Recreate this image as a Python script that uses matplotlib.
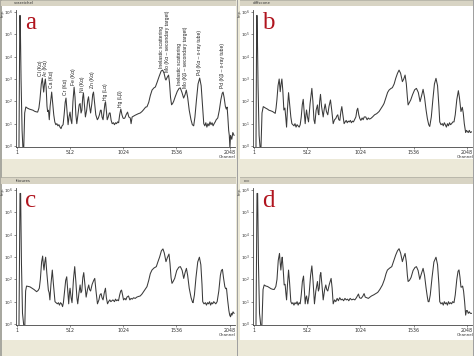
import matplotlib
matplotlib.use("Agg")
import matplotlib.pyplot as plt
from matplotlib.patches import Rectangle

W, H = 474, 356

# ---- spectra (channel, counts) ----
ch_a = [20, 28, 32, 40, 50, 58, 66, 75, 86, 100, 120, 140, 155, 170, 185, 200, 212, 222, 235, 245,
        252, 258, 266, 274, 282, 290, 296, 304, 312, 320, 335, 345, 355, 365, 375, 385, 395, 405, 415, 425,
        435, 445, 455, 465, 473, 482, 493, 502, 512, 520, 529, 540, 551, 560, 568, 577, 590, 600, 609, 618,
        626, 634, 641, 650, 660, 672, 682, 690, 700, 710, 722, 730, 738, 748, 760, 775, 785, 795, 805, 812,
        820, 830, 840, 848, 854, 862, 870, 880, 890, 898, 908, 918, 930, 940, 950, 960, 970, 980, 990, 1001,
        1012, 1022, 1030, 1040, 1052, 1066, 1078, 1092, 1100, 1110, 1125, 1140, 1155, 1170, 1188, 1205, 1220, 1240, 1253, 1270,
        1285, 1302, 1320, 1334, 1350, 1370, 1390, 1404, 1418, 1430, 1436, 1448, 1461, 1470, 1480, 1490, 1500, 1510, 1525, 1545,
        1562, 1574, 1590, 1606, 1620, 1632, 1645, 1660, 1677, 1690, 1703, 1715, 1730, 1745, 1761, 1775, 1788, 1800, 1810, 1820,
        1830, 1840, 1850, 1860, 1870, 1880, 1890, 1900, 1910, 1920, 1935, 1950, 1965, 1978, 1986, 1996, 2008, 2017, 2025, 2032,
        2040, 2046, 2052, 2058, 2070, 2080, 2092]
cnt_a = [0.8, 7e5, 7e5, 1000, 5, 0.8, 0.8, 30, 56, 50, 45, 42, 40, 36, 34, 33, 50, 120, 600, 1100,
         500, 260, 600, 1000, 400, 60, 35, 40, 15, 60, 260, 80, 25, 12, 9, 10, 8, 9, 7, 6,
         8, 9, 25, 90, 140, 40, 9, 20, 33, 15, 10, 100, 430, 150, 25, 10, 30, 70, 80, 30,
         40, 150, 240, 70, 20, 40, 110, 160, 60, 30, 80, 200, 260, 90, 25, 15, 18, 25, 40, 40,
         20, 15, 40, 80, 95, 40, 15, 20, 30, 30, 14, 10, 11, 9, 11, 10, 12, 11, 25, 45,
         25, 18, 17, 18, 25, 33, 20, 18, 10, 20, 22, 24, 26, 28, 30, 35, 42, 55, 57, 90,
         180, 320, 400, 440, 700, 1300, 2300, 2500, 1800, 1000, 900, 1200, 1500, 700, 150, 70, 80, 100, 160, 280,
         380, 400, 250, 140, 200, 320, 150, 40, 15, 9, 8, 20, 120, 600, 1100, 500, 60, 10, 8, 11,
         7, 10, 8, 12, 9, 11, 8, 10, 12, 15, 18, 40, 120, 230, 260, 150, 60, 45, 55, 20,
         5, 3, 0.8, 3, 2, 4, 3]

ch_b = [20, 27, 31, 40, 50, 60, 68, 78, 90, 105, 115, 130, 145, 160, 179, 195, 205, 213, 221, 232,
        243, 248, 253, 261, 269, 278, 288, 298, 306, 314, 322, 333, 343, 355, 365, 375, 385, 395, 405, 415,
        425, 435, 445, 455, 465, 474, 484, 493, 500, 506, 515, 525, 540, 557, 567, 577, 586, 598, 611, 618,
        624, 632, 640, 650, 666, 676, 685, 697, 710, 722, 736, 748, 762, 775, 787, 797, 806, 816, 826, 836,
        845, 855, 867, 877, 887, 897, 907, 917, 927, 937, 947, 957, 967, 980, 990, 998, 1008, 1018, 1028, 1040,
        1050, 1060, 1075, 1088, 1100, 1110, 1123, 1140, 1160, 1180, 1203, 1225, 1240, 1251, 1270, 1285, 1299, 1315, 1331, 1348,
        1363, 1380, 1395, 1410, 1427, 1440, 1453, 1465, 1475, 1482, 1495, 1507, 1525, 1545, 1562, 1580, 1597, 1612, 1626, 1640,
        1655, 1667, 1680, 1690, 1705, 1720, 1735, 1750, 1765, 1778, 1786, 1798, 1811, 1820, 1830, 1840, 1850, 1860, 1870, 1880,
        1890, 1900, 1912, 1923, 1935, 1950, 1965, 1975, 1990, 1997, 2003, 2012, 2022, 2035, 2043, 2051, 2060, 2070, 2080, 2093]
cnt_b = [0.8, 7e5, 7e5, 500, 3, 0.8, 0.8, 30, 58, 52, 49, 45, 40, 38, 35, 31, 29, 50, 115, 500,
         1000, 500, 270, 600, 1000, 300, 41, 50, 20, 7, 40, 245, 80, 20, 10, 9, 8, 10, 7, 9,
         8, 7, 9, 20, 70, 123, 30, 10, 25, 41, 20, 12, 80, 380, 100, 15, 10, 40, 69, 30,
         25, 100, 205, 60, 20, 45, 76, 35, 25, 60, 115, 40, 10, 15, 17, 22, 25, 15, 14, 35,
         58, 25, 10, 12, 14, 11, 13, 12, 14, 11, 13, 12, 15, 20, 40, 49, 25, 17, 14, 18,
         15, 20, 20, 15, 18, 16, 17, 20, 25, 28, 35, 50, 65, 81, 150, 250, 320, 370, 410, 600,
         1070, 1800, 2500, 1800, 760, 1000, 1500, 600, 150, 69, 90, 115, 200, 330, 380, 250, 97, 180, 345, 150,
         40, 17, 9, 7.5, 20, 120, 600, 1070, 500, 60, 12, 9, 10, 8, 11, 9, 7, 10, 8, 11,
         9, 10, 12, 12, 25, 120, 300, 150, 35, 45, 54, 30, 10, 4, 5, 4.5, 4, 5, 4, 4.3]

ch_c = [20, 30, 36, 44, 54, 68, 76, 84, 93, 110, 126, 145, 165, 190, 205, 216, 226, 238, 248, 254,
        261, 269, 277, 288, 303, 311, 318, 328, 341, 352, 367, 377, 390, 400, 410, 420, 430, 440, 448, 460,
        470, 480, 490, 499, 506, 512, 522, 531, 545, 557, 568, 578, 586, 598, 609, 617, 625, 635, 644, 655,
        667, 680, 692, 700, 710, 725, 740, 750, 762, 776, 790, 800, 811, 820, 830, 842, 853, 862, 873, 883,
        895, 905, 915, 925, 940, 950, 960, 970, 979, 990, 1000, 1008, 1018, 1027, 1040, 1050, 1060, 1075, 1088, 1100,
        1112, 1124, 1140, 1155, 1170, 1188, 1205, 1225, 1253, 1270, 1285, 1301, 1320, 1343, 1358, 1375, 1392, 1407, 1420, 1436,
        1450, 1465, 1475, 1485, 1494, 1505, 1520, 1540, 1560, 1575, 1592, 1607, 1620, 1633, 1645, 1660, 1678, 1690, 1697, 1710,
        1725, 1742, 1758, 1772, 1783, 1790, 1802, 1816, 1826, 1836, 1846, 1856, 1866, 1876, 1886, 1896, 1906, 1916, 1929, 1945,
        1960, 1970, 1980, 1990, 2003, 2011, 2019, 2030, 2042, 2050, 2058, 2065, 2072, 2082, 2092]
cnt_c = [0.8, 7e5, 7e5, 500, 3, 0.7, 0.7, 30, 50, 48, 46, 40, 35, 28, 32, 40, 100, 600, 1100, 500,
         260, 600, 980, 200, 33, 25, 12, 60, 260, 60, 10, 9, 8, 9, 7, 9, 8, 6, 9, 30,
         90, 130, 30, 8, 25, 40, 15, 9, 100, 370, 80, 15, 8, 25, 56, 25, 30, 120, 200, 60,
         16, 35, 56, 35, 30, 60, 90, 110, 30, 8, 12, 20, 23, 15, 12, 25, 40, 15, 8, 10,
         12, 10, 11, 12, 10, 13, 11, 12, 11, 20, 30, 33, 20, 12, 14, 12, 16, 18, 12, 14,
         13, 15, 14, 16, 17, 18, 22, 30, 47, 90, 180, 260, 320, 370, 600, 1000, 1900, 2300, 1500, 620,
         950, 1350, 500, 120, 66, 80, 110, 250, 350, 370, 250, 110, 200, 310, 150, 40, 15, 10, 9, 20,
         120, 600, 980, 450, 60, 10, 8, 9, 7, 9, 8, 10, 7, 9, 8, 10, 9, 8, 10, 30,
         150, 250, 280, 120, 47, 38, 40, 12, 4, 2.5, 2.1, 3, 2.5, 3.5, 3]

ch_d = [20, 30, 36, 44, 54, 68, 76, 88, 99, 115, 131, 150, 165, 179, 195, 211, 222, 234, 246, 252,
        259, 266, 272, 281, 291, 300, 307, 314, 322, 333, 343, 355, 365, 375, 385, 395, 405, 415, 425, 435,
        445, 455, 466, 477, 486, 493, 500, 506, 512, 518, 530, 545, 557, 568, 582, 595, 611, 620, 628, 636,
        643, 655, 666, 680, 691, 700, 710, 725, 742, 752, 762, 775, 787, 800, 812, 825, 838, 850, 862, 875,
        888, 900, 912, 925, 940, 955, 970, 985, 995, 1005, 1015, 1030, 1045, 1059, 1070, 1085, 1100, 1115, 1130, 1150,
        1171, 1190, 1210, 1235, 1255, 1270, 1283, 1305, 1325, 1345, 1363, 1380, 1395, 1410, 1427, 1440, 1453, 1465, 1475, 1482,
        1495, 1510, 1530, 1548, 1562, 1578, 1594, 1610, 1626, 1640, 1655, 1667, 1675, 1683, 1695, 1712, 1730, 1750, 1765, 1778,
        1786, 1798, 1810, 1820, 1830, 1840, 1850, 1860, 1870, 1880, 1890, 1900, 1910, 1923, 1935, 1950, 1962, 1971, 1980, 1990,
        1998, 2006, 2015, 2025, 2035, 2043, 2051, 2060, 2070, 2080, 2093]
cnt_d = [0.8, 7e5, 7e5, 500, 3, 0.7, 0.7, 35, 56, 50, 48, 42, 38, 36, 35, 48, 100, 700, 1450, 600,
         260, 600, 980, 300, 56, 60, 25, 12, 50, 260, 70, 10, 8, 9, 7, 9, 8, 10, 7, 9,
         8, 20, 80, 140, 30, 8, 15, 18, 12, 8, 20, 150, 400, 90, 8, 30, 80, 30, 40, 150,
         200, 50, 12, 35, 56, 35, 30, 60, 110, 40, 8, 12, 10, 14, 11, 15, 12, 13, 11, 14,
         12, 13, 11, 14, 12, 13, 12, 15, 18, 22, 15, 14, 17, 23, 16, 15, 14, 16, 18, 20,
         23, 26, 35, 56, 100, 180, 260, 320, 370, 700, 1230, 1900, 2350, 1500, 620, 1000, 1450, 600, 150, 80,
         90, 120, 250, 340, 370, 250, 100, 180, 310, 150, 40, 16, 10, 10, 20, 120, 600, 980, 450, 60,
         10, 8, 9, 7, 10, 8, 9, 7, 10, 8, 9, 8, 10, 9, 20, 100, 230, 265, 130, 45,
         45, 50, 30, 10, 2.5, 4, 4, 3, 3.5, 3, 3]

# peak labels of panel a: (channel, count at label foot, text)
peak_ch = [232, 275, 330, 466, 546, 634, 733, 849, 994, 1393, 1455, 1568, 1625, 1755, 1983]
peak_base = [1300, 1350, 380, 190, 520, 270, 380, 115, 58, 3000, 2100, 520, 400, 1500, 380]
peak_text = ["Cl (K\u03b1)", "Ar (K\u03b1)", "Ca (K\u03b1)", "Cr (K\u03b1)", "Fe (K\u03b1)", "Ni (K\u03b1)",
             "Zn (K\u03b1)", "Hg (L\u03b1)", "Hg (L\u03b2)", "Inelastic scattering",
             "Mo (K\u03b1 \u2013 secondary target)", "Inelastic scattering",
             "Mo (K\u03b2 \u2013 secondary target)", "Pd (K\u03b1 \u2013 x-ray tube)",
             "Pd (K\u03b2 \u2013 x-ray tube)"]

x_ticks = [1, 512, 1024, 1536, 2048]
y_ticks = [1, 10, 100, 1e3, 1e4, 1e5, 1e6]
y_ticklabels = [r"$10^{%d}$" % i for i in range(7)]
titles = ["vorzeichel", "diffscone", "fitoures", "ccc"]
letters = ["a", "b", "c", "d"]

BEIGE = "#ece9d8"
BAR = "#d8d4c4"
RED = "#b0141e"

fig = plt.figure(figsize=(W / 100, H / 100), dpi=100, facecolor=BEIGE)


def rect(x0, y0, x1, y1, **kw):
    # rectangle given in pixel coords from the top-left corner
    fig.add_artist(Rectangle((x0 / W, 1 - y1 / H), (x1 - x0) / W, (y1 - y0) / H,
                             transform=fig.transFigure, zorder=-5, **kw))


def ftext(x, y, s, **kw):
    fig.text(x / W, 1 - y / H, s, **kw)


# window chrome
rect(0, 0, 2, H, facecolor="#a8a8a0", edgecolor="none")
for top, bot in [(0, 159), (177, 340)]:
    bar_h = 6 if top == 0 else 7
    rect(0, top, W, top + bar_h, facecolor=BAR, edgecolor="#9c9a90", lw=0.4)
    rect(2, top + bar_h, 236, bot, facecolor="white", edgecolor="none")
    rect(240, top + bar_h, 473, bot, facecolor="white", edgecolor="none")
rect(236, 0, 240, H, facecolor=BEIGE, edgecolor="none")
rect(237, 0, 238, H, facecolor="#a0a0a0", edgecolor="none")
rect(473, 0, W, H, facecolor="#a0a0a0", edgecolor="none")

# panel geometry (pixels): x of channel 1, x of channel 2048, y of 10^0, y of 10^6
panels = [(17, 229.5, 146, 12), (254, 467, 146, 12), (17, 229.5, 324, 190), (254, 467, 324, 190)]
series = [(ch_a, cnt_a), (ch_b, cnt_b), (ch_c, cnt_c), (ch_d, cnt_d)]
title_y = [3, 3, 181, 181]
title_x = [24, 262, 23, 247]

XL, XR = -10, 2100
for i, ((x1, x2, y0, y6), (chs, cnts)) in enumerate(zip(panels, series)):
    s = (x2 - x1) / 2047
    left = x1 - (1 - XL) * s
    right = x2 + (XR - 2048) * s
    dec = (y0 - y6) / 6
    bottom = y0 + 1
    top = y6 - 2
    ylo = 10 ** (-(bottom - y0) / dec)
    yhi = 10 ** ((y0 - top) / dec)
    ax = fig.add_axes([left / W, 1 - bottom / H, (right - left) / W, (bottom - top) / H])
    ax.set_facecolor("none")
    ax.plot(chs, cnts, color="#3a3a3a", lw=0.75)
    ax.set_yscale("log")
    ax.set_xlim(XL, XR)
    ax.set_ylim(ylo, yhi)
    ax.set_xticks(x_ticks)
    ax.set_xticklabels([str(t) for t in x_ticks], fontsize=3.4)
    ax.set_yticks(y_ticks)
    ax.set_yticklabels(y_ticklabels, fontsize=3.1)
    ax.minorticks_off()
    ax.tick_params(length=1.2, width=0.4, pad=0.8, colors="#333333")
    for side in ["top", "right"]:
        ax.spines[side].set_visible(False)
    for side in ["left", "bottom"]:
        ax.spines[side].set_linewidth(0.6)
        ax.spines[side].set_color("#444444")

    if i == 0:
        for c, b, t in zip(peak_ch, peak_base, peak_text):
            ax.text(c, b, t, rotation=90, ha="center", va="bottom", fontsize=3.6,
                    family="Liberation Sans", color="#222222")

    # labels around the plot
    ftext(x2 - 2, y0 + 11, "Channel", ha="center", va="center", fontsize=3, color="#333333")
    ftext(left - 13.2, y6 + 1, "Imp.", ha="center", va="center", rotation=90, fontsize=2.5, color="#333333")
    ftext(left + 9, y6 + 17, letters[i], ha="left", va="baseline", fontsize=18,
          family="Liberation Serif", color=RED)
    ftext(title_x[i], title_y[i], titles[i], ha="center", va="center", fontsize=2.8, color="#333333")

fig.savefig("out.png", dpi=100, facecolor=BEIGE)
